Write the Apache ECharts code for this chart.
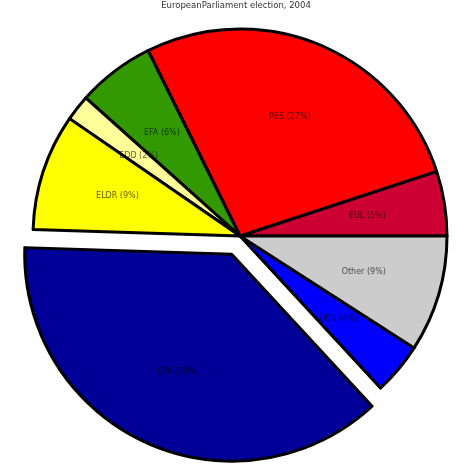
<!DOCTYPE html>
<html>
<head>
<meta charset="utf-8">
<script src="https://cdn.jsdelivr.net/npm/echarts@6/dist/echarts.min.js"></script>
<style>
  html, body { margin: 0; padding: 0; background: #fff; }
  #chart { width: 474px; height: 474px; }
</style>
</head>
<body>
<div id="chart"></div>
<script>
// groups, counter-clockwise from 3 o'clock
const groups = ['EUL', 'PES', 'EFA', 'EDD', 'ELDR', 'EPP', 'UEN', 'Other'];
const shares = [5, 27, 6, 2, 9, 37, 4, 9];
const colors = ['#CC0033', '#FF0000', '#339900', '#FFFF99', '#FFFF00', '#000099', '#0000FF', '#CCCCCC'];
const exploded = ['EPP'];

const chart = echarts.init(document.getElementById('chart'));

function buildData(withColor) {
    return groups.map((name, i) => ({
        name: name,
        value: shares[i],
        selected: exploded.indexOf(name) >= 0,
        itemStyle: withColor
            ? { color: colors[i], borderColor: '#000', borderWidth: 3 }
            : { color: 'rgba(0,0,0,0)', borderWidth: 0 }
    }));
}

const common = {
    type: 'pie',
    center: [240, 236],
    startAngle: 0,
    clockwise: false,
    percentPrecision: 0,
    selectedMode: 'single',
    selectedOffset: 20,
    animation: false,
    emphasis: { disabled: true },
    labelLine: { show: false }
};

const option = {
    backgroundColor: '#ffffff',
    title: {
        text: 'EuropeanParliament election, 2004',
        left: 236,
        textAlign: 'center',
        top: 1,
        padding: 0,
        textStyle: {
            fontFamily: 'DejaVu Sans',
            fontSize: 8.5,
            fontWeight: 'normal',
            color: '#333'
        }
    },
    series: [
        Object.assign({}, common, {
            radius: 207,
            label: { show: false },
            data: buildData(true)
        }),
        // invisible ring only used to place the labels further out
        Object.assign({}, common, {
            radius: [0, 252],
            silent: true,
            z: 3,
            label: {
                show: true,
                position: 'inside',
                formatter: '{b} ({d}%)',
                fontFamily: 'DejaVu Sans',
                fontSize: 8,
                color: 'rgba(0,0,0,0.65)'
            },
            data: buildData(false)
        })
    ]
};

chart.setOption(option);
</script>
</body>
</html>
